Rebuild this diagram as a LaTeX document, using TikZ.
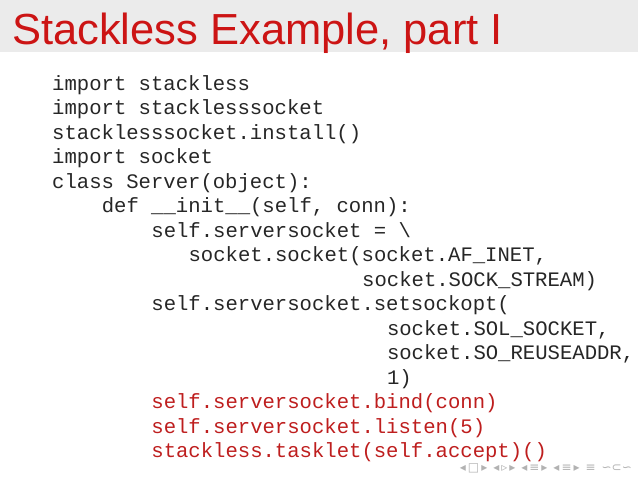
\documentclass[tikz,border=0pt]{standalone}
\usepackage{fontspec}
\setmainfont{Liberation Sans}
\newfontfamily\codefont{Liberation Mono}
\newfontfamily\navfont{DejaVu Sans}
\definecolor{titlered}{RGB}{204,20,20}
\definecolor{codered}{RGB}{190,30,30}
\definecolor{bargray}{RGB}{235,235,235}
\tikzset{codeline/.style={anchor=base west,inner sep=0pt,font=\codefont\fontsize{20.6}{20}\selectfont}}
\newcommand{\cl}[4][black!85]{\node[codeline,text=#1] (l#2) at ({52pt+12.4pt*#3},{-90pt-24.5pt*(#2-1)}) {#4};}
\begin{document}
\begin{tikzpicture}[x=1pt,y=1pt]
\useasboundingbox (0,0) rectangle (638,-479);
\fill[bargray] (0,0) rectangle (638,-52);
\node[anchor=base west,inner sep=0pt,text=titlered,font=\fontsize{43.5}{44}\selectfont] (title) at (12,-44) {Stackless Example, part I};
\cl{1}{0}{import stackless}
\cl{2}{0}{import stacklesssocket}
\cl{3}{0}{stacklesssocket.install()}
\cl{4}{0}{import socket}
\cl{5}{0}{class Server(object):}
\cl{6}{4}{def \_\_init\_\_(self, conn):}
\cl{7}{8}{self.serversocket = \textbackslash}
\cl{8}{11}{socket.socket(socket.AF\_INET,}
\cl{9}{25}{socket.SOCK\_STREAM)}
\cl{10}{8}{self.serversocket.setsockopt(}
\cl{11}{27}{socket.SOL\_SOCKET,}
\cl{12}{27}{socket.SO\_REUSEADDR,}
\cl{13}{27}{1)}
\cl[codered]{14}{8}{self.serversocket.bind(conn)}
\cl[codered]{15}{8}{self.serversocket.listen(5)}
\cl[codered]{16}{8}{stackless.tasklet(self.accept)()}
\node[anchor=east,inner sep=0pt,text=black!30,font=\navfont\fontsize{12}{12}\selectfont] (nav) at (632,-468) {◂\,□\,▸\enspace◂\,▹\,▸\enspace◂\,≡\,▸\enspace◂\,≡\,▸\enspace≡\enspace∽⊂∽};
\end{tikzpicture}
\end{document}
